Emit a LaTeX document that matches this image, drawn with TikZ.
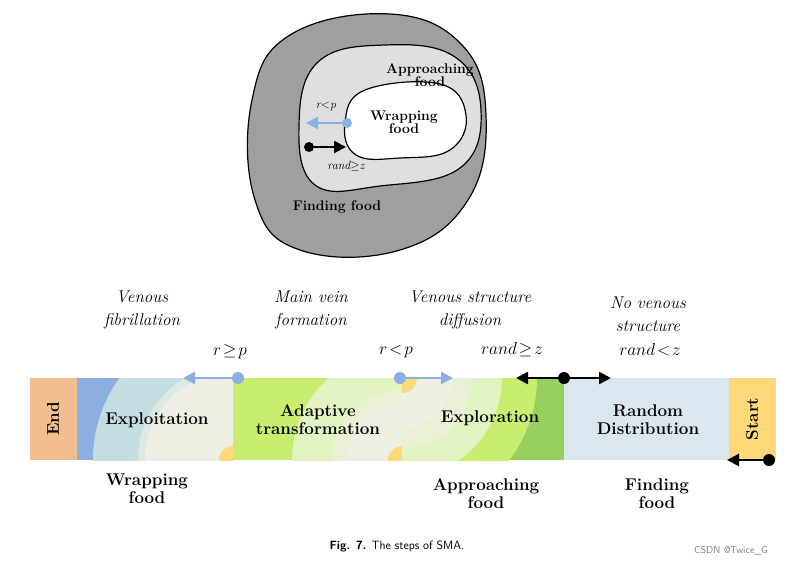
\documentclass[tikz,border=0pt]{standalone}
\usetikzlibrary{arrows.meta}
\usepackage{amssymb}
\begin{document}
\begin{tikzpicture}[x=1pt,y=-1pt,
 lbl/.style={font=\bfseries\fontsize{17}{19}\selectfont,align=center},
 sl/.style={font=\bfseries\fontsize{14}{15}\selectfont,align=center},
 it/.style={font=\itshape\fontsize{17}{23}\selectfont,align=center},
 m/.style={font=\fontsize{18}{20}\selectfont},
 barr/.style={line width=2.5pt,-{Triangle[length=12pt,width=12pt]}},
 dot/.style={circle,fill,inner sep=0pt,minimum size=8pt}]
\useasboundingbox (0,0) rectangle (793,566);
\definecolor{blu}{HTML}{8AAFE0}\definecolor{lb}{HTML}{C3DDE2}\definecolor{pal}{HTML}{EDEFE3}
\definecolor{grn}{HTML}{C8EE70}\definecolor{lg}{HTML}{E0F3C0}\definecolor{dg}{HTML}{98CF5E}
\definecolor{yel}{HTML}{FDD97A}\definecolor{org}{HTML}{F3BE8F}\definecolor{rd}{HTML}{DAE7EE}
\definecolor{arb}{HTML}{8AAFE0}
% top blob
\draw[line width=1.2pt,fill=gray!75] plot[smooth cycle,tension=0.7] coordinates{(290,35)(390,14)(462,45)(486,115)(468,200)(400,250)(300,250)(255,200)(252,100)};
\draw[line width=1.2pt,fill=gray!25!white] plot[smooth cycle,tension=0.7] coordinates{(318,62)(385,45)(455,57)(481,110)(460,168)(380,186)(315,185)(299,125)};
\draw[line width=1.2pt,fill=white] plot[smooth cycle,tension=0.7] coordinates{(365,90)(440,84)(466,115)(450,150)(400,158)(356,155)(345,123)};
\node[sl] (af) at (430,75) {Approaching\\[-2pt]food};
\node[sl] (wf) at (404,122) {Wrapping\\[-2pt]food};
\node[sl] (ff) at (337,207) {Finding food};
\node[dot,fill=arb,minimum size=10pt] (d1) at (347,123) {};
\coordinate (e1) at (306,123);
\draw[barr,arb] (d1) -- (e1);
\node[font=\itshape\fontsize{12}{14}\selectfont] (t1) at (326,106) {r$<$p};
\node[dot,minimum size=10pt] (d2) at (309,147) {};
\coordinate (e2) at (346,147);
\draw[barr] (d2) -- (e2);
\node[font=\itshape\fontsize{12}{14}\selectfont] (t2) at (346,166) {rand$\geq$z};
% bar
\fill[org] (30,378) rectangle (77,460);
\begin{scope}\clip (77,378) rectangle (233,460);
\fill[blu] (77,378) rectangle (233,460);
\fill[lb] (233,460) circle (140);
\fill[pal!60!lb] (233,460) circle (95);
\fill[pal] (233,460) circle (88);
\fill[yel] (233,460) circle (14);
\end{scope}
\begin{scope}\clip (233,378) rectangle (402,460);
\fill[grn] (233,378) rectangle (402,460);
\fill[lg] (402,460) circle (110);
\fill[pal!60!lg] (402,460) circle (70);
\fill[pal] (402,460) circle (55);
\fill[yel] (402,460) circle (14);
\end{scope}
\begin{scope}\clip (402,378) rectangle (564,460);
\fill[dg] (402,378) rectangle (564,460);
\fill[grn] (402,378) circle (135);
\fill[lg] (402,378) circle (100);
\fill[pal!60!lg] (402,378) circle (70);
\fill[pal] (402,378) circle (50);
\fill[yel] (402,378) circle (15);
\end{scope}
\fill[rd] (564,378) rectangle (729,460);
\fill[yel] (729,378) rectangle (776,460);
\node[lbl,rotate=90] (end) at (53,419) {End};
\node[lbl,rotate=90] (st) at (752,419) {Start};
\node[lbl] (ex) at (157,420) {Exploitation};
\node[lbl] (ad) at (318,420) {Adaptive\\[-1pt]transformation};
\node[lbl] (xp) at (490,418) {Exploration};
\node[lbl] (rdn) at (648,420) {Random\\[-1pt]Distribution};
\node[lbl] (w2) at (147,489) {Wrapping\\[-1pt]food};
\node[lbl] (a2) at (486,494) {Approaching\\[-1pt]food};
\node[lbl] (f2) at (657,494) {Finding\\[-1pt]food};
\node[it] (v1) at (142,310) {Venous\\fibrillation};
\node[it] (v2) at (311,310) {Main vein\\formation};
\node[it] (v3) at (470,310) {Venous structure\\diffusion};
\node[it] (v4) at (648,314) {No venous\\structure};
\node[m] (m1) at (230,352) {$r\!\geq\!p$};
\node[m] (m2) at (396,352) {$r\!<\!p$};
\node[m] (m3) at (512,350) {$rand\!\geq\! z$};
\node[m] (m4) at (650,350) {$rand\!<\!z$};
\node[dot,fill=arb,minimum size=12pt] (b1) at (238,378) {};
\coordinate (c1) at (183,378);
\draw[barr,arb] (b1) -- (c1);
\node[dot,fill=arb,minimum size=12pt] (b2) at (400,378) {};
\coordinate (c2) at (453,378);
\draw[barr,arb] (b2) -- (c2);
\node[dot,minimum size=12pt] (b3) at (564,378) {};
\coordinate (c3) at (516,378); \coordinate (c4) at (611,378);
\draw[barr] (b3) -- (c3); \draw[barr] (b3) -- (c4);
\node[dot,minimum size=12pt] (b4) at (769,460) {};
\coordinate (c5) at (727,460);
\draw[barr] (b4) -- (c5);
\node[font=\sffamily\fontsize{12}{14}\selectfont] (cap) at (397,546) {\textbf{Fig. 7.} The steps of SMA.};
\node[font=\sffamily\fontsize{10}{12}\selectfont,text=gray] (wm) at (731,551) {CSDN @Twice\_G};
\end{tikzpicture}
\end{document}
